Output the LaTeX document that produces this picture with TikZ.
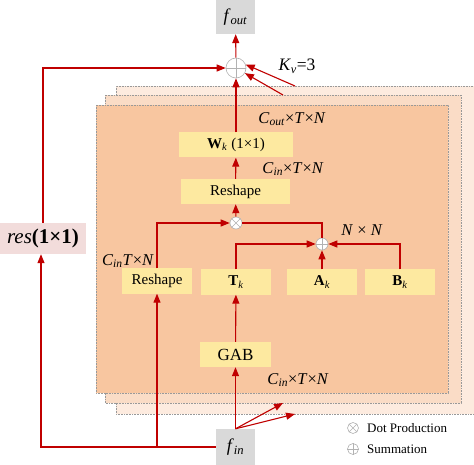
\documentclass[tikz,border=0pt]{standalone}
\usepackage{fontspec}
\setmainfont{Liberation Serif}
\usetikzlibrary{arrows.meta}
\definecolor{arr}{HTML}{C00000}
\definecolor{boxy}{HTML}{FDE9A0}
\definecolor{lay1}{HTML}{F8C6A0}
\definecolor{lay2}{HTML}{FADCC6}
\definecolor{lay3}{HTML}{FDEBDF}
\definecolor{resc}{HTML}{F2DCDB}
\definecolor{grayb}{HTML}{D9D9D9}
\newcommand{\vsub}[2]{\textit{#1}\textsubscript{\textit{#2}}}
\tikzset{
  ybox/.style={fill=boxy, inner sep=0pt, minimum height=25pt, font=\fontsize{15}{17}\selectfont},
  gbox/.style={fill=grayb, inner sep=0pt, minimum width=39pt, font=\fontsize{18}{20}\selectfont},
  layer/.style={draw=gray!80, densely dotted, line width=0.6pt},
  conn/.style={draw=arr, line width=1.1pt, -{Triangle[length=9pt,width=7pt]}},
  line/.style={draw=arr, line width=1.1pt},
  lbl/.style={inner sep=0pt, font=\fontsize{16.5}{18}\selectfont},
  opc/.style={circle, draw=gray!60, fill=white, line width=0.6pt, inner sep=0pt},
}
\begin{document}
\begin{tikzpicture}[x=1pt,y=-1pt]
\useasboundingbox (0,0) rectangle (474,465);
% layers
\fill[lay3] (116,86) rectangle (476,414);
\draw[layer] (476,86) -- (116,86) -- (116,414) -- (476,414);
\filldraw[fill=lay2, layer] (105,95) rectangle (461,403);
\filldraw[fill=lay1, layer] (96,105) rectangle (448,393);
% nodes
\node[gbox, minimum height=34pt] (fout) at (235.5,17) {\vsub{f}{out}};
\node[gbox, minimum height=36pt] (fin) at (235.5,447) {\vsub{f}{in}};
\node[fill=resc, inner sep=0pt, minimum width=86pt, minimum height=31pt, font=\fontsize{21}{23}\selectfont] (res) at (43,238.5) {\textit{res}\textbf{(1×1)}};
\node[opc, minimum size=20pt] (sum) at (236,68) {};
\draw[gray!60, line width=0.6pt] (sum.west) -- (sum.east) (sum.north) -- (sum.south);
\node[ybox, minimum width=114pt] (wk) at (236,145) {\textbf{W}\textsubscript{\textit{k}} (1×1)};
\node[ybox, minimum width=109pt] (rs1) at (235.5,191.5) {Reshape};
\node[opc, minimum size=12pt] (dot) at (236,223) {};
\draw[gray!60, line width=0.6pt] (dot.north west) -- (dot.south east) (dot.north east) -- (dot.south west);
\node[opc, minimum size=12pt] (add) at (322,244) {};
\draw[gray!60, line width=0.6pt] (add.west) -- (add.east) (add.north) -- (add.south);
\node[ybox, minimum width=70pt] (rs2) at (157,281) {Reshape};
\node[ybox, minimum width=70pt] (tk) at (236,282) {\textbf{T}\textsubscript{\textit{k}}};
\node[ybox, minimum width=70pt] (ak) at (322,282) {\textbf{A}\textsubscript{\textit{k}}};
\node[ybox, minimum width=70pt] (bk) at (400,282) {\textbf{B}\textsubscript{\textit{k}}};
\node[ybox, minimum width=71pt, font=\fontsize{17}{19}\selectfont] (gab) at (235.5,354.5) {GAB};
% labels
\node[lbl, font=\fontsize{17.5}{19}\selectfont] (kv) at (297,66) {\textit{K}\textsubscript{\textit{v}}=3};
\node[lbl] (l1) at (292,119) {\vsub{C}{out}×\textit{T}×\textit{N}};
\node[lbl] (l2) at (293,169) {\vsub{C}{in}×\textit{T}×\textit{N}};
\node[lbl] (l3) at (362,230) {\textit{N} × \textit{N}};
\node[lbl] (l4) at (128,261) {\vsub{C}{in}\textit{T}×\textit{N}};
\node[lbl] (l5) at (298,380) {\vsub{C}{in}×\textit{T}×\textit{N}};
% legend
\node[opc, minimum size=11pt] (lg1) at (353,428) {};
\draw[gray!60, line width=0.6pt] (lg1.north west) -- (lg1.south east) (lg1.north east) -- (lg1.south west);
\node[opc, minimum size=11pt] (lg2) at (353,449) {};
\draw[gray!60, line width=0.6pt] (lg2.west) -- (lg2.east) (lg2.north) -- (lg2.south);
\node[anchor=west, inner sep=0pt, font=\fontsize{13}{15}\selectfont] (t1) at (367,428) {Dot Production};
\node[anchor=west, inner sep=0pt, font=\fontsize{13}{15}\selectfont] (t2) at (367,449) {Summation};
% connectors
\coordinate (a1) at (295,86);
\coordinate (a2) at (283,95);
\coordinate (b1) at (283,403);
\coordinate (b2) at (295,414);
\draw[conn] (sum) -- (fout);
\draw[conn] (wk) -- (sum);
\draw[conn] (a1) -- (sum.20);
\draw[conn] (a2) -- (sum.-30);
\draw[conn] (res.north) -- (43,68) -- (sum.west);
\draw[conn] (fin.west) -- (41,447) -- (res.south -| 41,0);
\draw[conn] (fin.west) -| (rs2.south);
\draw[conn] (rs1) -- (wk);
\draw[conn] (dot) -- (rs1);
\draw[conn] (rs2.north) |- (dot.west);
\draw[line] (dot.east) -| (add.north);
\draw[conn] (tk.north) |- (add.west);
\draw[conn] (bk.north) |- (add.east);
\draw[conn] (ak) -- (add);
\draw[conn] (gab) -- (tk);
\draw[conn] (fin.north) -- (gab);
\draw[conn] (fin.north) -- (b1);
\draw[conn] (fin.north) -- (b2);
\end{tikzpicture}
\end{document}
